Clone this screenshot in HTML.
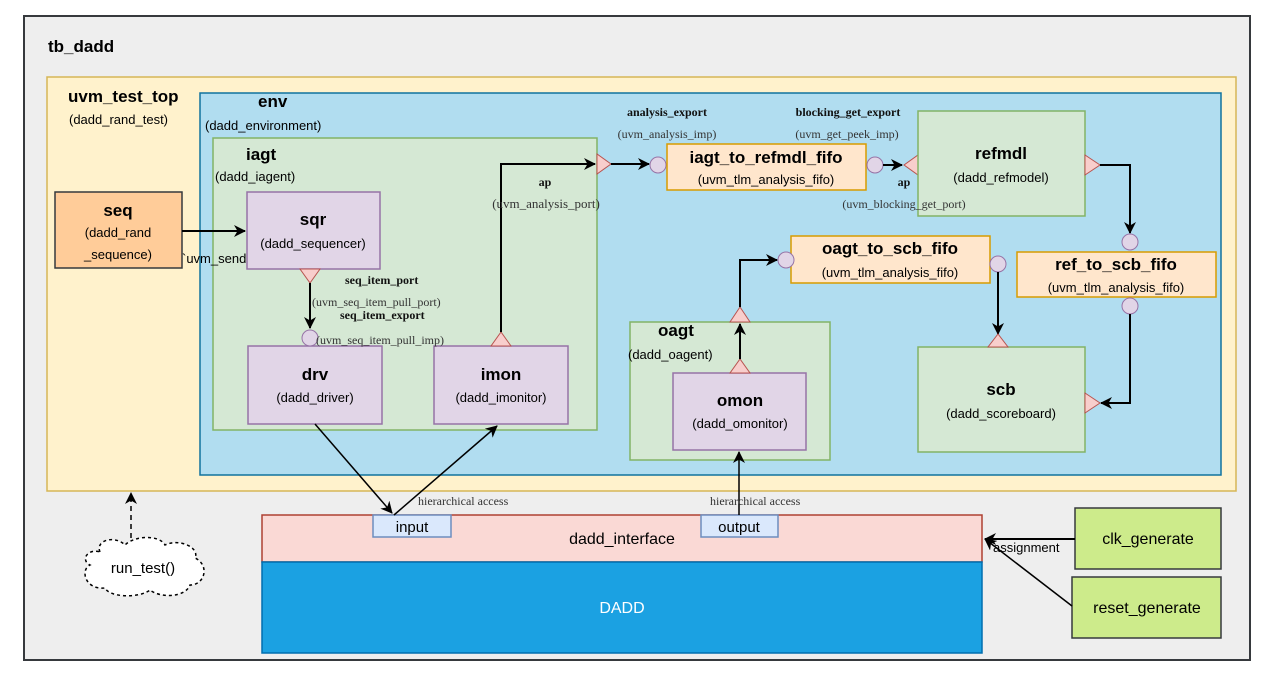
<!DOCTYPE html>
<html><head><meta charset="utf-8"><style>
html,body{margin:0;padding:0;background:#fff;}
svg{display:block;}
.t{font-family:"Liberation Sans",sans-serif;font-weight:bold;font-size:17px;fill:#000;}
.s{font-family:"Liberation Sans",sans-serif;font-size:13px;fill:#000;}
.b{font-family:"Liberation Serif",serif;font-weight:bold;font-size:12px;fill:#111;}
.r{font-family:"Liberation Serif",serif;font-size:12px;fill:#333;}
</style></head><body>
<svg width="1268" height="676" viewBox="0 0 1268 676" xmlns="http://www.w3.org/2000/svg">
<defs>
<marker id="a" markerWidth="12" markerHeight="12" refX="11" refY="6" orient="auto" markerUnits="userSpaceOnUse"><path d="M0,0 L12,6 L0,12 L3.5,6 z" fill="#000"/></marker>
</defs>
<rect x="0" y="0" width="1268" height="676" fill="#fff"/>
<rect x="24" y="16" width="1226" height="644" fill="#eeeeee" stroke="#36393d" stroke-width="2"/>
<text x="48" y="52" class="t">tb_dadd</text>
<rect x="47" y="77" width="1189" height="414" fill="#fff2cc" stroke="#d6b656" stroke-width="1.5"/>
<text x="68" y="102" class="t">uvm_test_top</text>
<text x="69" y="124" class="s">(dadd_rand_test)</text>
<rect x="200" y="93" width="1021" height="382" fill="#b1ddf0" stroke="#10739e" stroke-width="1.5"/>
<text x="258" y="107" class="t">env</text>
<text x="205" y="130" class="s">(dadd_environment)</text>
<rect x="213" y="138" width="384" height="292" fill="#d5e8d4" stroke="#82b366" stroke-width="1.5"/>
<text x="246" y="160" class="t">iagt</text>
<text x="215" y="181" class="s">(dadd_iagent)</text>
<rect x="55" y="192" width="127" height="76" fill="#ffcc99" stroke="#36393d" stroke-width="1.5"/>
<text x="118" y="216" class="t" text-anchor="middle">seq</text>
<text x="118" y="237" class="s" text-anchor="middle">(dadd_rand</text>
<text x="118" y="259" class="s" text-anchor="middle">_sequence)</text>
<rect x="247" y="192" width="133" height="77" fill="#e1d5e7" stroke="#9673a6" stroke-width="1.5"/>
<text x="313" y="225" class="t" text-anchor="middle">sqr</text>
<text x="313" y="248" class="s" text-anchor="middle">(dadd_sequencer)</text>
<line x1="182" y1="231" x2="245" y2="231" stroke="#000" stroke-width="2" marker-end="url(#a)"/>
<text x="182" y="263" class="s">`uvm_send</text>
<rect x="248" y="346" width="134" height="78" fill="#e1d5e7" stroke="#9673a6" stroke-width="1.5"/>
<text x="315" y="380" class="t" text-anchor="middle">drv</text>
<text x="315" y="402" class="s" text-anchor="middle">(dadd_driver)</text>
<rect x="434" y="346" width="134" height="78" fill="#e1d5e7" stroke="#9673a6" stroke-width="1.5"/>
<text x="501" y="380" class="t" text-anchor="middle">imon</text>
<text x="501" y="402" class="s" text-anchor="middle">(dadd_imonitor)</text>
<polygon points="300,269 320,269 310,283" fill="#f8cecc" stroke="#b85450"/>
<line x1="310" y1="283" x2="310" y2="328" stroke="#000" stroke-width="2" marker-end="url(#a)"/>
<circle cx="310" cy="338" r="8" fill="#e1d5e7" stroke="#9673a6"/>
<text x="345" y="284" class="b">seq_item_port</text>
<text x="312" y="306" class="r">(uvm_seq_item_pull_port)</text>
<text x="340" y="319" class="b">seq_item_export</text>
<text x="316" y="344" class="r">(uvm_seq_item_pull_imp)</text>
<polygon points="491,346 511,346 501,332" fill="#f8cecc" stroke="#b85450"/>
<polyline points="501,332 501,164 595,164" fill="none" stroke="#000" stroke-width="2" marker-end="url(#a)"/>
<polygon points="597,154 597,174 611,164" fill="#f8cecc" stroke="#b85450"/>
<text x="545" y="186" class="b" text-anchor="middle">ap</text>
<text x="546" y="208" class="r" text-anchor="middle" style="font-size:13px">(uvm_analysis_port)</text>
<line x1="611" y1="164" x2="649" y2="164" stroke="#000" stroke-width="2" marker-end="url(#a)"/>
<circle cx="658" cy="165" r="8" fill="#e1d5e7" stroke="#9673a6"/>
<text x="667" y="116" class="b" text-anchor="middle">analysis_export</text>
<text x="667" y="138" class="r" text-anchor="middle">(uvm_analysis_imp)</text>
<rect x="667" y="144" width="199" height="46" fill="#ffe6cc" stroke="#d79b00" stroke-width="1.5"/>
<text x="766" y="163" class="t" text-anchor="middle">iagt_to_refmdl_fifo</text>
<text x="766" y="184" class="s" text-anchor="middle">(uvm_tlm_analysis_fifo)</text>
<circle cx="875" cy="165" r="8" fill="#e1d5e7" stroke="#9673a6"/>
<line x1="883" y1="165" x2="902" y2="165" stroke="#000" stroke-width="2" marker-end="url(#a)"/>
<polygon points="918,155 918,175 904,165" fill="#f8cecc" stroke="#b85450"/>
<text x="848" y="116" class="b" text-anchor="middle">blocking_get_export</text>
<text x="847" y="138" class="r" text-anchor="middle">(uvm_get_peek_imp)</text>
<text x="904" y="186" class="b" text-anchor="middle">ap</text>
<rect x="918" y="111" width="167" height="105" fill="#d5e8d4" stroke="#82b366" stroke-width="1.5"/>
<text x="904" y="208" class="r" text-anchor="middle">(uvm_blocking_get_port)</text>
<text x="1001" y="159" class="t" text-anchor="middle">refmdl</text>
<text x="1001" y="182" class="s" text-anchor="middle">(dadd_refmodel)</text>
<polygon points="1085,155 1085,175 1100,165" fill="#f8cecc" stroke="#b85450"/>
<polyline points="1100,165 1130,165 1130,233" fill="none" stroke="#000" stroke-width="2" marker-end="url(#a)"/>
<circle cx="1130" cy="242" r="8" fill="#e1d5e7" stroke="#9673a6"/>
<rect x="1017" y="252" width="199" height="45" fill="#ffe6cc" stroke="#d79b00" stroke-width="1.5"/>
<text x="1116" y="270" class="t" text-anchor="middle">ref_to_scb_fifo</text>
<text x="1116" y="292" class="s" text-anchor="middle">(uvm_tlm_analysis_fifo)</text>
<circle cx="1130" cy="306" r="8" fill="#e1d5e7" stroke="#9673a6"/>
<polyline points="1130,314 1130,403 1101,403" fill="none" stroke="#000" stroke-width="2" marker-end="url(#a)"/>
<rect x="791" y="236" width="199" height="47" fill="#ffe6cc" stroke="#d79b00" stroke-width="1.5"/>
<text x="890" y="254" class="t" text-anchor="middle">oagt_to_scb_fifo</text>
<text x="890" y="277" class="s" text-anchor="middle">(uvm_tlm_analysis_fifo)</text>
<circle cx="786" cy="260" r="8" fill="#e1d5e7" stroke="#9673a6"/>
<circle cx="998" cy="264" r="8" fill="#e1d5e7" stroke="#9673a6"/>
<line x1="998" y1="272" x2="998" y2="334" stroke="#000" stroke-width="2" marker-end="url(#a)"/>
<rect x="918" y="347" width="167" height="105" fill="#d5e8d4" stroke="#82b366" stroke-width="1.5"/>
<text x="1001" y="395" class="t" text-anchor="middle">scb</text>
<text x="1001" y="418" class="s" text-anchor="middle">(dadd_scoreboard)</text>
<polygon points="988,347 1008,347 998,334" fill="#f8cecc" stroke="#b85450"/>
<polygon points="1085,393 1085,413 1100,403" fill="#f8cecc" stroke="#b85450"/>
<rect x="630" y="322" width="200" height="138" fill="#d5e8d4" stroke="#82b366" stroke-width="1.5"/>
<text x="658" y="336" class="t">oagt</text>
<text x="628" y="359" class="s">(dadd_oagent)</text>
<rect x="673" y="373" width="133" height="77" fill="#e1d5e7" stroke="#9673a6" stroke-width="1.5"/>
<text x="740" y="406" class="t" text-anchor="middle">omon</text>
<text x="740" y="428" class="s" text-anchor="middle">(dadd_omonitor)</text>
<polygon points="730,373 750,373 740,359" fill="#f8cecc" stroke="#b85450"/>
<line x1="740" y1="359" x2="740" y2="324" stroke="#000" stroke-width="2" marker-end="url(#a)"/>
<polygon points="730,322 750,322 740,307" fill="#f8cecc" stroke="#b85450"/>
<polyline points="740,307 740,260 777,260" fill="none" stroke="#000" stroke-width="2" marker-end="url(#a)"/>
<rect x="262" y="515" width="720" height="47" fill="#fad9d5" stroke="#ae4132" stroke-width="1.5"/>
<text x="622" y="544" class="s" text-anchor="middle" style="font-size:16px">dadd_interface</text>
<rect x="262" y="562" width="720" height="91" fill="#1ba1e2" stroke="#006eaf" stroke-width="1.5"/>
<text x="622" y="613" class="s" text-anchor="middle" style="font-size:16px;fill:#fff">DADD</text>
<rect x="373" y="515" width="78" height="22" fill="#dae8fc" stroke="#6c8ebf" stroke-width="1.5"/>
<text x="412" y="532" class="s" text-anchor="middle" style="font-size:15px">input</text>
<rect x="701" y="515" width="77" height="22" fill="#dae8fc" stroke="#6c8ebf" stroke-width="1.5"/>
<text x="739" y="532" class="s" text-anchor="middle" style="font-size:15px">output</text>
<line x1="315" y1="424" x2="392" y2="513" stroke="#000" stroke-width="1.5" marker-end="url(#a)"/>
<line x1="394" y1="515" x2="497" y2="426" stroke="#000" stroke-width="1.5" marker-end="url(#a)"/>
<line x1="739" y1="515" x2="739" y2="452" stroke="#000" stroke-width="1.5" marker-end="url(#a)"/>
<text x="418" y="505" class="r">hierarchical access</text>
<text x="710" y="505" class="r">hierarchical access</text>
<rect x="1075" y="508" width="146" height="61" fill="#cdeb8b" stroke="#36393d" stroke-width="1.5"/>
<text x="1148" y="544" class="s" text-anchor="middle" style="font-size:16px">clk_generate</text>
<rect x="1072" y="577" width="149" height="61" fill="#cdeb8b" stroke="#36393d" stroke-width="1.5"/>
<text x="1147" y="613" class="s" text-anchor="middle" style="font-size:16px">reset_generate</text>
<line x1="1075" y1="539" x2="985" y2="539" stroke="#000" stroke-width="2" marker-end="url(#a)"/>
<line x1="1072" y1="606" x2="985" y2="539" stroke="#000" stroke-width="1.5" marker-end="url(#a)"/>
<text x="993" y="552" class="s">assignment</text>
<path d="M100,552 C95,540 115,535 125,545 C135,535 160,535 165,545 C180,538 200,548 195,558 C210,565 205,585 190,585 C185,598 160,598 150,590 C140,598 110,598 105,588 C85,590 80,570 90,565 C80,560 88,548 100,552 z" fill="#fff" stroke="#000" stroke-width="1.5" stroke-dasharray="3,3"/>
<text x="143" y="573" class="s" text-anchor="middle" style="font-size:15px">run_test()</text>
<line x1="131" y1="538" x2="131" y2="493" stroke="#000" stroke-width="1.5" stroke-dasharray="5,4" marker-end="url(#a)"/>
</svg>
</body></html>
